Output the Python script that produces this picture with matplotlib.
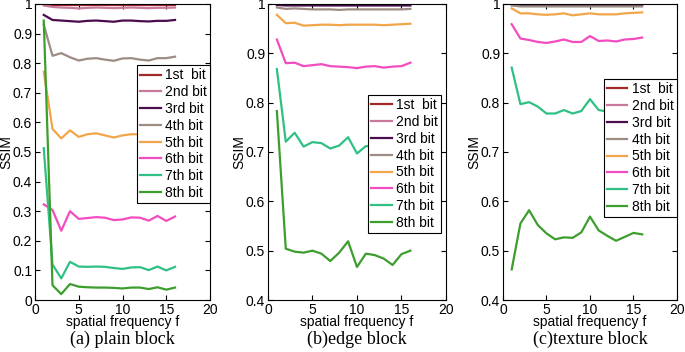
import matplotlib
matplotlib.use('Agg')
import matplotlib.pyplot as plt

# spatial frequency f = 1..16
freq = list(range(1, 17))
labels = ['1st  bit', '2nd bit', '3rd bit', '4th bit', '5th bit', '6th bit', '7th bit', '8th bit']
colors = ['#a3282a', '#c9799c', '#4a0d4e', '#9c8c84', '#f2a64a', '#f24cc0', '#2fc184', '#3d9e2e']

# (a) plain block
plain_1 = [0.998, 0.998, 0.998, 0.998, 0.998, 0.998, 0.998, 0.998, 0.998, 0.998, 0.998, 0.998, 0.998, 0.998, 0.998, 0.998]
plain_2 = [0.995, 0.99, 0.988, 0.987, 0.985, 0.987, 0.988, 0.987, 0.986, 0.987, 0.988, 0.987, 0.986, 0.987, 0.987, 0.988]
plain_3 = [0.963, 0.946, 0.944, 0.942, 0.94, 0.943, 0.944, 0.942, 0.94, 0.944, 0.944, 0.942, 0.941, 0.943, 0.943, 0.946]
plain_4 = [0.93, 0.825, 0.834, 0.82, 0.809, 0.815, 0.817, 0.812, 0.808, 0.816, 0.817, 0.812, 0.809, 0.817, 0.817, 0.822]
plain_5 = [0.771, 0.578, 0.546, 0.573, 0.551, 0.56, 0.563, 0.556, 0.549, 0.556, 0.56, 0.56, 0.557, 0.56, 0.558, 0.56]
plain_6 = [0.323, 0.304, 0.234, 0.3, 0.274, 0.277, 0.28, 0.278, 0.27, 0.272, 0.279, 0.278, 0.268, 0.284, 0.267, 0.282]
plain_7 = [0.513, 0.12, 0.073, 0.129, 0.113, 0.112, 0.113, 0.112, 0.108, 0.105, 0.11, 0.111, 0.101, 0.113, 0.1, 0.112]
plain_8 = [0.944, 0.05, 0.02, 0.054, 0.045, 0.043, 0.042, 0.042, 0.041, 0.039, 0.042, 0.042, 0.037, 0.043, 0.035, 0.042]

# (b) edge block
edge_1 = [1.0, 1.0, 1.0, 1.0, 1.0, 1.0, 1.0, 1.0, 1.0, 1.0, 1.0, 1.0, 1.0, 1.0, 1.0, 1.0]
edge_2 = [0.999, 0.999, 0.999, 0.999, 0.999, 0.999, 0.999, 0.999, 0.999, 0.999, 0.999, 0.999, 0.999, 0.999, 0.999, 0.999]
edge_3 = [0.998, 0.997, 0.997, 0.997, 0.997, 0.997, 0.997, 0.997, 0.997, 0.997, 0.997, 0.997, 0.997, 0.997, 0.997, 0.997]
edge_4 = [0.993, 0.99, 0.991, 0.99, 0.989, 0.989, 0.989, 0.988, 0.989, 0.989, 0.989, 0.989, 0.989, 0.989, 0.989, 0.99]
edge_5 = [0.978, 0.961, 0.962, 0.956, 0.957, 0.958, 0.958, 0.957, 0.958, 0.958, 0.958, 0.958, 0.957, 0.958, 0.959, 0.96]
edge_6 = [0.928, 0.88, 0.881, 0.874, 0.876, 0.878, 0.874, 0.873, 0.872, 0.87, 0.873, 0.874, 0.871, 0.873, 0.874, 0.881]
edge_7 = [0.868, 0.721, 0.739, 0.711, 0.72, 0.718, 0.707, 0.713, 0.73, 0.697, 0.712, 0.711, 0.709, 0.713, 0.71, 0.712]
edge_8 = [0.783, 0.504, 0.498, 0.496, 0.5, 0.494, 0.479, 0.496, 0.519, 0.467, 0.494, 0.491, 0.484, 0.471, 0.493, 0.5]

# (c) texture block
tex_1 = [1.0, 1.0, 1.0, 1.0, 1.0, 1.0, 1.0, 1.0, 1.0, 1.0, 1.0, 1.0, 1.0, 1.0, 1.0, 1.0]
tex_2 = [0.999, 0.999, 0.999, 0.999, 0.999, 0.999, 0.999, 0.999, 0.999, 0.999, 0.999, 0.999, 0.999, 0.999, 0.999, 0.999]
tex_3 = [0.998, 0.998, 0.998, 0.998, 0.998, 0.998, 0.998, 0.998, 0.998, 0.998, 0.998, 0.998, 0.998, 0.998, 0.998, 0.998]
tex_4 = [0.997, 0.995, 0.995, 0.995, 0.995, 0.995, 0.995, 0.995, 0.995, 0.995, 0.995, 0.995, 0.995, 0.995, 0.995, 0.995]
tex_5 = [0.991, 0.981, 0.981, 0.979, 0.978, 0.979, 0.981, 0.977, 0.979, 0.981, 0.979, 0.979, 0.979, 0.981, 0.982, 0.983]
tex_6 = [0.959, 0.93, 0.927, 0.923, 0.921, 0.924, 0.928, 0.923, 0.923, 0.935, 0.925, 0.926, 0.924, 0.928, 0.929, 0.932]
tex_7 = [0.871, 0.797, 0.801, 0.792, 0.778, 0.778, 0.785, 0.778, 0.783, 0.807, 0.785, 0.782, 0.784, 0.786, 0.785, 0.787]
tex_8 = [0.462, 0.555, 0.582, 0.552, 0.535, 0.523, 0.527, 0.526, 0.537, 0.569, 0.541, 0.53, 0.52, 0.528, 0.536, 0.533]

panels = [
    ([plain_1, plain_2, plain_3, plain_4, plain_5, plain_6, plain_7, plain_8],
     '(a) plain block', [0.0511, 0.1477, 0.2555, 0.841], (0, 1), (1.0, 0.794)),
    ([edge_1, edge_2, edge_3, edge_4, edge_5, edge_6, edge_7, edge_8],
     '(b)edge block', [0.3912, 0.1477, 0.2599, 0.841], (0.4, 1), (0.972, 0.693)),
    ([tex_1, tex_2, tex_3, tex_4, tex_5, tex_6, tex_7, tex_8],
     '(c)texture block', [0.7343, 0.1477, 0.254, 0.841], (0.4, 1), (1.0, 0.747)),
]

plt.rcParams['font.family'] = ['Liberation Sans', 'DejaVu Sans']
fig = plt.figure(figsize=(6.85, 3.52), dpi=100)

for series, caption, rect, ylim, anchor in panels:
    ax = fig.add_axes(rect)
    for vals, lab, col in zip(series, labels, colors):
        ax.plot(freq, vals, color=col, lw=1.6, label=lab)
    ax.set_xlim(0, 20)
    ax.set_ylim(*ylim)
    ax.set_xticks([0, 5, 10, 15, 20])
    yt = [round(ylim[0] + 0.1 * i, 1) for i in range(int(round((ylim[1] - ylim[0]) / 0.1)) + 1)]
    ax.set_yticks(yt)
    ax.set_yticklabels(['0' if t == 0 else ('1' if t == 1 else f'{t:.1f}') for t in yt])
    ax.tick_params(direction='in', top=True, right=True, labelsize=10, length=3.5, pad=2)
    ax.set_ylabel('SSIM', fontsize=10, labelpad=0)
    ax.set_xlabel('spatial frequency f', fontsize=10, labelpad=-1)
    leg = ax.legend(loc='upper right', bbox_to_anchor=anchor, fancybox=False,
                    edgecolor='black', framealpha=1, fontsize=10, handlelength=1.45,
                    handletextpad=0.3, labelspacing=0.2, borderpad=0.25, borderaxespad=0)
    leg.get_frame().set_linewidth(0.8)
    ax.text(0.5, -0.105, caption, transform=ax.transAxes, ha='center', va='top',
            family='Liberation Serif', fontsize=13)

fig.savefig('out.png', dpi=100)
